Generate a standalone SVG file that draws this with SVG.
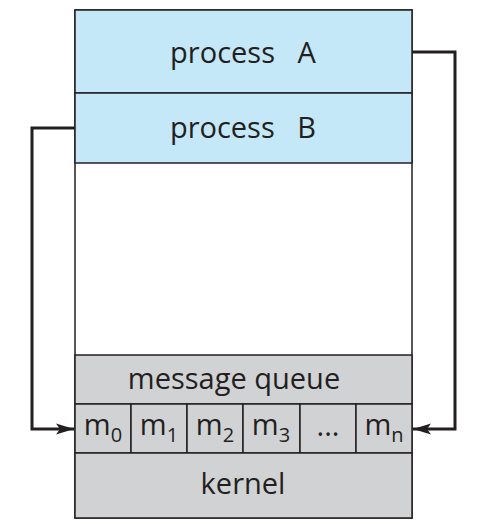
<svg xmlns="http://www.w3.org/2000/svg" width="485" height="524" viewBox="0 0 485 524">
<style>
.box{stroke:#231f20;stroke-width:1.5}
.blue{fill:#c4e8f8}
.gray{fill:#d1d2d4}
.t{font-family:"Open Sans","Liberation Sans",sans-serif;font-size:29px;fill:#231f20;text-anchor:middle}
.sub{font-size:20px}
.wire{fill:none;stroke:#231f20;stroke-width:3}
</style>
<defs>
<marker id="ah" viewBox="0 0 18 11" refX="18" refY="5.5" markerWidth="6" markerHeight="3.67" orient="auto" markerUnits="strokeWidth">
<path d="M0,0 L18,5.5 L0,11 L4,5.5 Z" fill="#231f20"/>
</marker>
</defs>
<rect x="75" y="10" width="337" height="508" fill="#fff" class="box"/>
<g id="processA"><rect x="75" y="10" width="337" height="83" class="box blue"/><text x="243" y="63" class="t" xml:space="preserve">process   A</text></g>
<g id="processB"><rect x="75" y="93" width="337" height="70" class="box blue"/><text x="243" y="138" class="t" xml:space="preserve">process   B</text></g>
<g id="messagequeue"><rect x="75" y="355" width="337" height="49" class="box gray"/><text x="234" y="389" class="t">message queue</text></g>
<g id="queue">
<rect x="75" y="404" width="56" height="49" class="box gray"/>
<rect x="131" y="404" width="56" height="49" class="box gray"/>
<rect x="187" y="404" width="56" height="49" class="box gray"/>
<rect x="243" y="404" width="57" height="49" class="box gray"/>
<rect x="300" y="404" width="56" height="49" class="box gray"/>
<rect x="356" y="404" width="56" height="49" class="box gray"/>
<text x="103" y="435" class="t">m<tspan class="sub" dy="7">0</tspan></text>
<text x="159" y="435" class="t">m<tspan class="sub" dy="7">1</tspan></text>
<text x="215" y="435" class="t">m<tspan class="sub" dy="7">2</tspan></text>
<text x="271" y="435" class="t">m<tspan class="sub" dy="7">3</tspan></text>
<text x="328" y="436" class="t">...</text>
<text x="384" y="435" class="t">m<tspan class="sub" dy="7">n</tspan></text>
</g>
<g id="kernel"><rect x="75" y="453" width="337" height="65" class="box gray"/><text x="243" y="494" class="t">kernel</text></g>
<g id="connectors">
<path d="M412,52 H455 V429 H413" class="wire" marker-end="url(#ah)"/>
<path d="M75,128 H32 V429 H74" class="wire" marker-end="url(#ah)"/>
</g>
</svg>
